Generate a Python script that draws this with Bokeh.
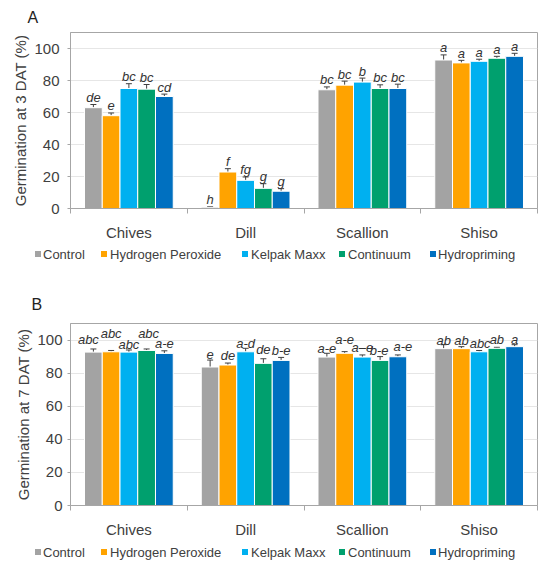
from bokeh.plotting import figure
from bokeh.models import (Range1d, FixedTicker, ColumnDataSource, Whisker,
                          TeeHead, Div, Title)
from bokeh.layouts import column
from bokeh.embed import file_html
from bokeh.resources import INLINE
from bokeh.core.properties import value

crops = ["Chives", "Dill", "Scallion", "Shiso"]
treatments = ["Control", "Hydrogen Peroxide", "Kelpak Maxx", "Continuum", "Hydropriming"]

# Germination at 3 days after treatment (%), mean and standard error per crop
g3_control = [63.0, 0.8, 74.2, 92.8]
g3_h2o2 = [58.0, 22.8, 77.1, 91.0]
g3_kelpak = [75.0, 17.6, 79.0, 92.0]
g3_continuum = [74.6, 12.6, 75.0, 93.9]
g3_hydro = [70.0, 10.8, 75.0, 95.1]

se3_control = [2.0, 0.4, 1.8, 3.2]
se3_h2o2 = [1.7, 2.1, 2.5, 1.6]
se3_kelpak = [3.0, 2.1, 2.5, 1.3]
se3_continuum = [2.9, 2.9, 2.3, 1.2]
se3_hydro = [1.5, 1.6, 2.7, 1.9]

let3_control = ["de", "h", "bc", "a"]
let3_h2o2 = ["e", "f", "bc", "a"]
let3_kelpak = ["bc", "fg", "b", "a"]
let3_continuum = ["bc", "g", "bc", "a"]
let3_hydro = ["cd", "g", "bc", "a"]

# Germination at 7 days after treatment (%)
g7_control = [92.7, 83.7, 89.7, 94.8]
g7_h2o2 = [92.9, 84.9, 92.0, 94.8]
g7_kelpak = [92.7, 92.9, 89.7, 92.9]
g7_continuum = [93.7, 85.9, 87.7, 95.0]
g7_hydro = [91.9, 87.7, 89.9, 96.0]

se7_control = [1.9, 4.2, 2.3, 2.4]
se7_h2o2 = [0.8, 1.2, 1.0, 1.2]
se7_kelpak = [1.3, 2.1, 1.3, 0.8]
se7_continuum = [0.9, 2.8, 2.3, 0.6]
se7_hydro = [1.6, 1.8, 1.1, 1.2]

let7_control = ["abc", "e", "a-e", "ab"]
let7_h2o2 = ["abc", "de", "a-e", "ab"]
let7_kelpak = ["abc", "a-d", "a\u2013e", "abc"]
let7_continuum = ["abc", "de", "b-e", "ab"]
let7_hydro = ["a-e", "b-e", "a-e", "a"]

y_ticks = [0, 20, 40, 60, 80, 100]

colors = ["#a3a3a3", "#ffa300", "#00b0f0", "#00a06e", "#0070c0"]
FONT = "Liberation Sans"
TXT = "#404040"

# letter placement (pixels above each error bar, horizontal nudge) for the 7 DAT panel
dy7 = [[9, 6, 5, 4], [17, 8, 12, 6], [5, 5, 7, 7], [15, 9, 6, 8], [7, 7, 8, 5]]
dx7 = [[-5, 0, 0, 0], [0, 0, 0, 0], [0, 0, 0, 1], [2, 0, -1, 0], [0, 0, 5, 0]]
dy3 = [[7] * 4 for _ in range(5)]
dx3 = [[0] * 4 for _ in range(5)]

# legend key squares and their label starts (px from the left edge)
key_x = [35, 101, 242, 339, 430]
key_text_x = [43, 110, 251, 348, 438]
group_w = 0.76
bar_w = group_w / 5


def panel(tag, ylabel, means, ses, letters, dys, dxs, height, top, bottom, left, right,
          tick_standoff, title_standoff, ylabel_shift):
    p = figure(width=550, height=height, output_backend="svg", toolbar_location=None,
               x_range=Range1d(0, 4), y_range=Range1d(0, 110),
               min_border_left=left, min_border_right=right,
               min_border_top=top, min_border_bottom=bottom)
    p.background_fill_color = "white"
    p.border_fill_color = "white"
    p.outline_line_color = "#a6a6a6"

    p.title.text = tag
    p.title.text_font = FONT
    p.title.text_font_size = "16px"
    p.title.text_font_style = "normal"
    p.title.text_color = "#222222"
    p.title.align = "left"
    p.title.offset = 27 - left
    p.title.standoff = title_standoff

    p.xgrid.visible = False
    p.ygrid.ticker = FixedTicker(ticks=y_ticks)
    p.ygrid.grid_line_color = "#e6e6e6"

    xa = p.xaxis[0]
    xa.ticker = FixedTicker(ticks=[0.5, 1.5, 2.5, 3.5], minor_ticks=[0, 1, 2, 3, 4])
    xa.major_label_overrides = {0.5: crops[0], 1.5: crops[1], 2.5: crops[2], 3.5: crops[3]}
    xa.major_tick_line_color = None
    xa.major_tick_out = 0
    xa.major_tick_in = 0
    xa.minor_tick_out = 5
    xa.minor_tick_in = 0
    xa.minor_tick_line_color = "#a6a6a6"
    xa.axis_line_color = "#a6a6a6"
    xa.major_label_standoff = 10
    xa.major_label_text_font = FONT
    xa.major_label_text_font_size = "15px"
    xa.major_label_text_color = TXT

    ya = p.yaxis[0]
    ya.ticker = FixedTicker(ticks=y_ticks)
    ya.minor_tick_line_color = None
    ya.major_tick_out = 3
    ya.major_tick_in = 0
    ya.major_tick_line_color = "#a6a6a6"
    ya.axis_line_color = "#a6a6a6"
    ya.major_label_standoff = tick_standoff
    ya.major_label_text_font = FONT
    ya.major_label_text_font_size = "15px"
    ya.major_label_text_color = TXT

    # vertical axis title, sitting a little below the frame's middle
    p.add_layout(Title(text=ylabel, align="center", offset=-ylabel_shift,
                       text_font=FONT, text_font_size="15px", text_font_style="normal",
                       text_color=TXT, standoff=5), "left")

    for j, name in enumerate(treatments):
        xs = [i + 0.5 + (j - 2) * bar_w for i in range(4)]
        tops = [m + s for m, s in zip(means[j], ses[j])]
        src = ColumnDataSource(dict(x=xs, top=means[j], up=tops, lab=letters[j],
                                    dy=[-d for d in dys[j]], dx=dxs[j]))
        p.vbar(x="x", top="top", width=bar_w, bottom=0, source=src,
               fill_color=colors[j], line_color="white", line_width=1)
        p.add_layout(Whisker(source=src, base="x", upper="up", lower="top",
                             dimension="height", line_color="#404040", line_width=1,
                             upper_head=TeeHead(size=6, line_color="#404040", line_width=1),
                             lower_head=None))
        p.text(x="x", y="up", text="lab", source=src, x_offset="dx", y_offset="dy",
               text_align="center", text_baseline="alphabetic",
               text_font=value(FONT), text_font_size="13px", text_font_style="italic",
               text_color="#333333")
    return p


def legend_row(height, center_y):
    # one row of colour keys under a panel
    parts = []
    for j, name in enumerate(treatments):
        parts.append(
            f'<span style="position:absolute;left:{key_x[j]}px;top:{center_y - 3}px;'
            f'width:6px;height:6px;background:{colors[j]}"></span>')
        parts.append(
            f'<span style="position:absolute;left:{key_text_x[j]}px;top:{center_y}px;'
            f'transform:translateY(-50%);font-family:\'{FONT}\';font-size:13px;'
            f'line-height:15px;color:{TXT};white-space:nowrap">{name}</span>')
    html = (f'<div style="position:relative;width:550px;height:{height}px;'
            f'background:white">' + "".join(parts) + '</div>')
    return Div(text=html, width=550, height=height, margin=0)


pa = panel("A", "Germination at 3 DAT (%)",
           [g3_control, g3_h2o2, g3_kelpak, g3_continuum, g3_hydro],
           [se3_control, se3_h2o2, se3_kelpak, se3_continuum, se3_hydro],
           [let3_control, let3_h2o2, let3_kelpak, let3_continuum, let3_hydro],
           dy3, dx3, height=244, top=30, bottom=36, left=70, right=12,
           tick_standoff=8, title_standoff=13, ylabel_shift=12)
la = legend_row(38, 10)

pb = panel("B", "Germination at 7 DAT (%)",
           [g7_control, g7_h2o2, g7_kelpak, g7_continuum, g7_hydro],
           [se7_control, se7_h2o2, se7_kelpak, se7_continuum, se7_hydro],
           [let7_control, let7_h2o2, let7_kelpak, let7_continuum, let7_hydro],
           dy7, dx7, height=259, top=38, bottom=36, left=66, right=13,
           tick_standoff=5, title_standoff=22, ylabel_shift=4)
lb = legend_row(24, 11)

layout = column(pa, la, pb, lb, spacing=0)
open("out.html", "w").write(file_html(layout, INLINE))
